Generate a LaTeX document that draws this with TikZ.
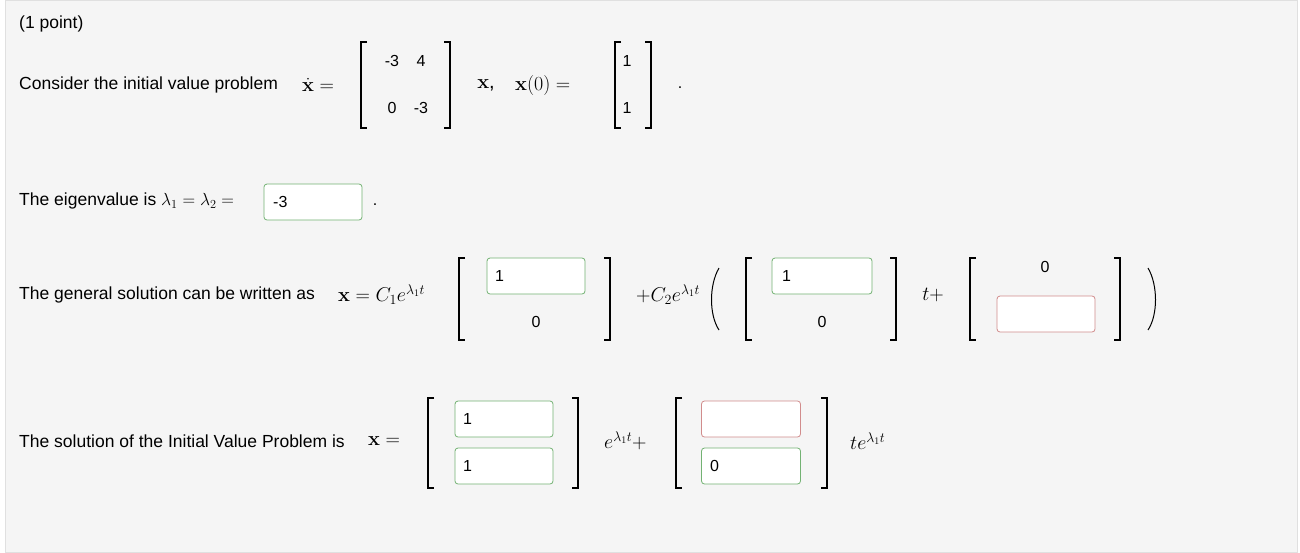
\RequirePackage{fix-cm}
\documentclass[tikz,border=0pt]{standalone}
\usepackage{amsmath}
\usepackage[no-math]{fontspec}
\setmainfont{Liberation Sans}
\begin{document}
\begin{tikzpicture}[x=1pt,y=-1pt,
  txt/.style={anchor=west,inner sep=0pt,font=\fontsize{17.5}{21}\selectfont},
  num/.style={inner sep=0pt,font=\fontsize{16}{19}\selectfont},
  mth/.style={inner sep=0pt,font=\fontsize{20}{24}\selectfont},
  okbox/.style={draw=green!45!black!55,fill=white,rounded corners=3pt,line width=0.8pt},
  badbox/.style={draw=red!60!black!45,fill=white,rounded corners=3pt,line width=0.8pt},
  brk/.style={line width=1.3pt}]
\useasboundingbox (0,0) rectangle (1300,552);
\fill[white] (0,0) rectangle (1300,552);
\filldraw[fill=black!4,draw=black!12] (5,0) rectangle (1297,552);
\newcommand{\lbr}[3]{\draw[brk] (#1+6,#2)--(#1,#2)--(#1,#3)--(#1+6,#3);}
\newcommand{\rbr}[3]{\draw[brk] (#1-6,#2)--(#1,#2)--(#1,#3)--(#1-6,#3);}
\node[txt] (pt) at (19,24) {(1 point)};
% row 1
\node[txt] (t1) at (19,85) {Consider the initial value problem};
\node[mth,anchor=west] (xd) at (302,85) {$\dot{\mathbf{x}}=$};
\lbr{361}{42}{128}\rbr{450}{42}{128}
\node[num] (a11) at (392,61) {-3};
\node[num] (a12) at (421,61) {4};
\node[num] (a21) at (392,108) {0};
\node[num] (a22) at (421,108) {-3};
\node[mth] (xc) at (486,85) {$\mathbf{x}$,};
\node[mth,anchor=west] (x0) at (515,85) {$\mathbf{x}(0)=$};
\lbr{615}{42}{128}\rbr{651}{42}{128}
\node[num] (b1) at (627,61) {1};
\node[num] (b2) at (627,108) {1};
\node[num] (dot1) at (680,88) {.};
% row 2
\node[txt] (t2) at (19,201) {The eigenvalue is $\lambda_1=\lambda_2=$};
\node[okbox,minimum width=98pt,minimum height=36pt] (ev) at (313,202) {};
\node[num,anchor=west] (evv) at (273,202) {-3};
\node[num] (dot2) at (375,205) {.};
% row 3
\node[txt] (t3) at (19,295) {The general solution can be written as};
\node[mth,anchor=west] (g1) at (338,295) {$\mathbf{x}=C_1e^{\lambda_1 t}$};
\lbr{459}{258}{340}\rbr{610}{258}{340}
\node[okbox,minimum width=98pt,minimum height=36pt] (c1) at (536,276) {};
\node[num,anchor=west] (c1v) at (495,276) {1};
\node[num] (c2) at (536,322) {0};
\node[mth,anchor=west] (g2) at (636,295) {$+C_2e^{\lambda_1 t}$};
\draw[line width=1pt] (719,268) .. controls (709,285) and (709,315) .. (719,330);
\lbr{746}{258}{340}\rbr{896}{258}{340}
\node[okbox,minimum width=100pt,minimum height=36pt] (d1) at (822,276) {};
\node[num,anchor=west] (d1v) at (782,276) {1};
\node[num] (d2) at (822,322) {0};
\node[mth] (tp) at (933,295) {$t+$};
\lbr{970}{258}{340}\rbr{1120}{258}{340}
\node[num] (e1) at (1045,267) {0};
\node[badbox,minimum width=98pt,minimum height=36pt] (e2) at (1046,314) {};
\draw[line width=1pt] (1148,268) .. controls (1158,285) and (1158,315) .. (1148,330);
% row 4
\node[txt] (t4) at (19,441) {The solution of the Initial Value Problem is};
\node[mth,anchor=west] (s1) at (368,441) {$\mathbf{x}=$};
\lbr{428}{398}{488}\rbr{578}{398}{488}
\node[okbox,minimum width=98pt,minimum height=36pt] (f1) at (504,419) {};
\node[num,anchor=west] (f1v) at (463,419) {1};
\node[okbox,minimum width=98pt,minimum height=36pt] (f2) at (504,466) {};
\node[num,anchor=west] (f2v) at (463,466) {1};
\node[mth,anchor=west] (s2) at (604,441) {$e^{\lambda_1 t}+$};
\lbr{676}{398}{488}\rbr{827}{398}{488}
\node[badbox,minimum width=99pt,minimum height=36pt] (h1) at (751,419) {};
\node[okbox,minimum width=99pt,minimum height=36pt] (h2) at (751,466) {};
\node[num,anchor=west] (h2v) at (710,466) {0};
\node[mth,anchor=west] (s3) at (850,441) {$te^{\lambda_1 t}$};
\end{tikzpicture}
\end{document}
